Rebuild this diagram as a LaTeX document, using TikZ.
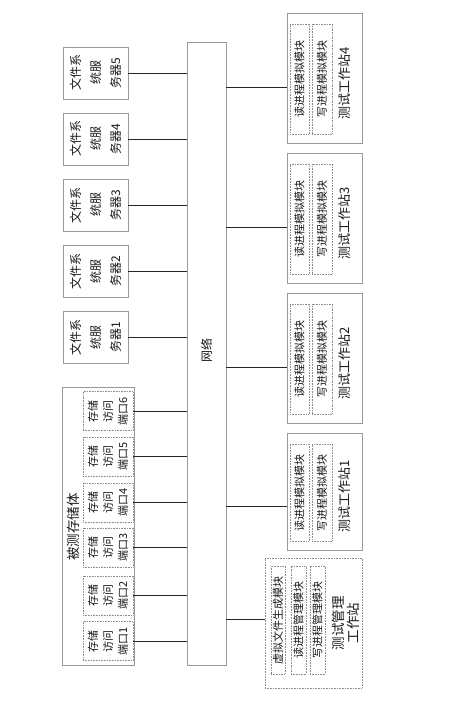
\documentclass[tikz,border=0pt]{standalone}
\usepackage{fontspec}
\setmainfont{Noto Sans CJK SC}
\begin{document}
\begin{tikzpicture}[x=1pt,y=-1pt,
 box/.style={draw=black!40, line width=0.6pt, inner sep=0pt},
 inbox/.style={draw=black!45, densely dotted, line width=0.6pt, inner sep=0pt},
 conn/.style={draw=black!85, line width=0.8pt},
 vt/.style={rotate=90, align=center, text=black!90, inner sep=0pt},
]
\useasboundingbox[fill=white] (0,0) rectangle (474,711);

% network
\node[box, minimum width=39, minimum height=623] (net) at (206.5,353.5) {};
\node[vt, font=\fontsize{12}{14}\selectfont] (netl) at (206.5,350) {网络};

% file servers
\foreach \i/\y in {5/73,4/139,3/205,2/271,1/337} {
  \node[box, minimum width=65, minimum height=52] (srv\i) at (95.5,\y) {};
  \node[vt, font=\fontsize{12}{20}\selectfont] (srvl\i) at (srv\i) {文件系\\统服\\务器\i};
  \draw[conn] (srv\i.east) -- (srv\i.east -| net.west);
}

% storage under test
\node[box, minimum width=72, minimum height=278] (stor) at (98,526) {};
\node[vt, font=\fontsize{13.5}{15}\selectfont] (storl) at (73,527) {被测存储体};
\foreach \i/\y in {6/411,5/456.5,4/502.5,3/547.5,2/595.5,1/641} {
  \node[inbox, minimum width=50, minimum height=39] (port\i) at (108,\y) {};
  \node[vt, font=\fontsize{11}{15}\selectfont] (portl\i) at (port\i) {存储\\访问\\端口\i};
  \draw[conn] (port\i.east) -- (port\i.east -| net.west);
}

% test workstations
\foreach \i/\cy/\h/\ly in {4/78/130/87,3/218/130/227,2/358/130/367,1/491.5/117/506} {
  \node[box, minimum width=75, minimum height=\h] (st\i) at (324.5,\cy) {};
  \node[inbox, minimum width=19, minimum height=\h-20] (rd\i) at (299.5,\cy+1) {};
  \node[vt, font=\fontsize{11}{12}\selectfont] (rdl\i) at (rd\i) {读进程模拟模块};
  \node[inbox, minimum width=20, minimum height=\h-20] (wr\i) at (322,\cy+1) {};
  \node[vt, font=\fontsize{11}{12}\selectfont] (wrl\i) at (wr\i) {写进程模拟模块};
  \node[vt, font=\fontsize{13}{15}\selectfont] (stl\i) at (345,\cy+5) {测试工作站\i};
  \coordinate (c\i) at (250,\ly);
  \draw[conn] (net.east |- c\i) -- (st\i.west |- c\i);
}

% test management workstation
\node[inbox, minimum width=97, minimum height=130] (mg) at (313.5,623) {};
\node[inbox, minimum width=14, minimum height=108] (mg1) at (278,620) {};
\node[vt, font=\fontsize{11}{12}\selectfont] (mgl1) at (mg1) {虚拟文件生成模块};
\node[inbox, minimum width=15, minimum height=108] (mg2) at (298.5,620) {};
\node[vt, font=\fontsize{11}{12}\selectfont] (mgl2) at (mg2) {读进程管理模块};
\node[inbox, minimum width=15, minimum height=108] (mg3) at (317.5,620) {};
\node[vt, font=\fontsize{11}{12}\selectfont] (mgl3) at (mg3) {写进程管理模块};
\node[vt, font=\fontsize{13.5}{15}\selectfont] (mgl) at (345.5,623) {测试管理\\工作站};
\coordinate (cm) at (250,619);
\draw[conn] (net.east |- cm) -- (mg.west |- cm);
\end{tikzpicture}
\end{document}
